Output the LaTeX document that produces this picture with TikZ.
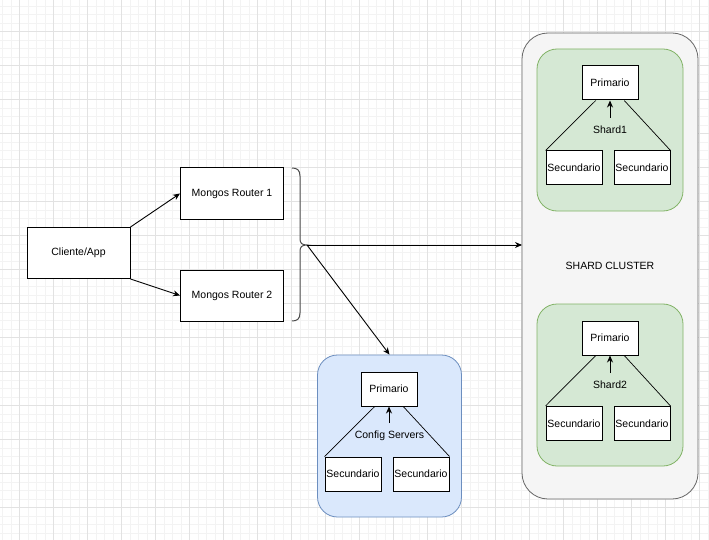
\documentclass[tikz,border=0pt]{standalone}
\usepackage{fontspec}
\setmainfont{Liberation Sans}
\usetikzlibrary{arrows.meta,calc}
\definecolor{gridminor}{HTML}{F3F3F3}
\definecolor{gridmajor}{HTML}{E2E2E2}
\definecolor{cfgfill}{HTML}{DAE8FC}
\definecolor{cfgline}{HTML}{6C8EBF}
\definecolor{shfill}{HTML}{D5E8D4}
\definecolor{shline}{HTML}{82B366}
\definecolor{clfill}{HTML}{F5F5F5}
\definecolor{clline}{HTML}{666666}
\begin{document}
\begin{tikzpicture}[x=1pt,y=-1pt,
  every node/.style={font=\fontsize{10.5}{12}\selectfont, inner sep=0pt},
  plainbox/.style={draw=black, line width=1pt, fill=white, minimum width=56pt, minimum height=34pt},
  bigbox/.style={draw=black, line width=1pt, fill=white, minimum width=103pt, minimum height=51pt},
  cfgbox/.style={draw=cfgline, fill=cfgfill, line width=0.8pt, rounded corners=20pt, minimum width=144pt, minimum height=162pt},
  shardbox/.style={draw=shline, fill=shfill, line width=0.8pt, rounded corners=20pt, minimum width=146pt, minimum height=162pt},
  clusterbox/.style={draw=clline, fill=clfill, line width=0.8pt, rounded corners=26pt, minimum width=176pt, minimum height=466pt},
  link/.style={draw=black, line width=0.7pt},
  arrow/.style={draw=black, line width=0.9pt, -{Stealth[length=7pt,width=6pt]}}]
\useasboundingbox (0,0) rectangle (709,540);
\fill[white] (0,0) rectangle (709,540);
% grid
\foreach \i in {0,...,84} {
  \draw[gridminor, line width=0.6pt] ({2.5+8.5*\i},0) -- ({2.5+8.5*\i},540);
}
\foreach \i in {0,...,64} {
  \draw[gridminor, line width=0.6pt] (0,{6.2+8.5*\i}) -- (709,{6.2+8.5*\i});
}
\foreach \i in {0,...,20} {
  \draw[gridmajor, line width=0.8pt] ({19.5+34*\i},0) -- ({19.5+34*\i},540);
}
\foreach \i in {0,...,15} {
  \draw[gridmajor, line width=0.8pt] (0,{31.7+34*\i}) -- (709,{31.7+34*\i});
}

% left part
\node[bigbox] (client) at (78.5,253) {Cliente/App};
\node[bigbox] (r1) at (232,193.5) {Mongos Router 1};
\node[bigbox] (r2) at (232,295.5) {Mongos Router 2};
\draw[arrow] (client.north east) -- (r1.west);
\draw[arrow] (client.south east) -- (r2.west);

% brace
\coordinate (bracetip) at (307,245);
\draw[draw=black!70, line width=1pt] (292,168) .. controls (297,168) and (300,170) .. (300,176)
  -- (300,239) .. controls (300,243) and (302,245) .. (bracetip)
  .. controls (302,245) and (300,247) .. (300,251)
  -- (300,313) .. controls (300,319) and (297,321) .. (292,321);

% config servers
\node[cfgbox] (cfg) at (389.5,436) {Config Servers};
\node[plainbox] (cp) at (389,389) {Primario};
\node[plainbox] (cs1) at (353,474) {Secundario};
\node[plainbox] (cs2) at (421,474) {Secundario};
\draw[link] ($(cp.south west)!0.5!(cp.south)$) -- (cs1.north west);
\draw[link] ($(cp.south)!0.5!(cp.south east)$) -- (cs2.north east);
\coordinate (ca) at (389,423);
\draw[arrow] (ca) -- (cp.south);

% shard cluster
\node[clusterbox] (cl) at (610,266) {SHARD CLUSTER};
\coordinate (clin) at (522,245);
\draw[arrow] (bracetip) -- (clin);
\draw[arrow] (bracetip) -- (cfg.north);

% shard 1
\node[shardbox] (sh1) at (610,130) {Shard1};
\node[plainbox] (p1) at (610,83) {Primario};
\node[plainbox] (s11) at (574,168) {Secundario};
\node[plainbox] (s12) at (642,168) {Secundario};
\draw[link] ($(p1.south west)!0.5!(p1.south)$) -- (s11.north west);
\draw[link] ($(p1.south)!0.5!(p1.south east)$) -- (s12.north east);
\coordinate (a1) at (610,118);
\draw[arrow] (a1) -- (p1.south);

% shard 2
\node[shardbox] (sh2) at (610,385) {Shard2};
\node[plainbox] (p2) at (610,338) {Primario};
\node[plainbox] (s21) at (574,423.5) {Secundario};
\node[plainbox] (s22) at (642,423.5) {Secundario};
\draw[link] ($(p2.south west)!0.5!(p2.south)$) -- (s21.north west);
\draw[link] ($(p2.south)!0.5!(p2.south east)$) -- (s22.north east);
\coordinate (a2) at (610,373);
\draw[arrow] (a2) -- (p2.south);
\end{tikzpicture}
\end{document}
